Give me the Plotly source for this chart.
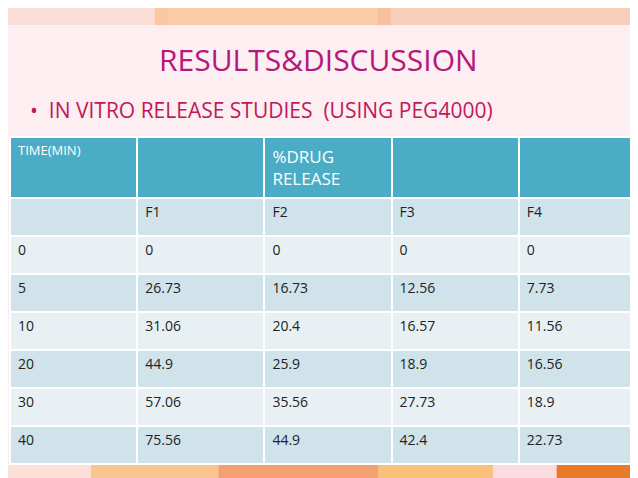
import plotly.graph_objects as go

# 表格数据
time_min = ["0", "5", "10", "20", "30", "40"]
f1 = ["0", "26.73", "31.06", "44.9", "57.06", "75.56"]
f2 = ["0", "16.73", "20.4", "25.9", "35.56", "44.9"]
f3 = ["0", "12.56", "16.57", "18.9", "27.73", "42.4"]
f4 = ["0", "7.73", "11.56", "16.56", "18.9", "22.73"]
header_labels = ["TIME(MIN)", "", "%DRUG<br>RELEASE", "", ""]
series_names = ["", "F1", "F2", "F3", "F4"]

columns = [[series_names[0]] + time_min, [series_names[1]] + f1, [series_names[2]] + f2,
           [series_names[3]] + f3, [series_names[4]] + f4]
row_colors = ["#D0E3EA" if i % 2 == 0 else "#E9F0F3" for i in range(len(columns[0]))]

W, H = 638, 478
OFF = 8  # 页面自带的 body 边距


def py(px):
    # 屏幕像素 y -> paper 坐标
    return 1 - (px - OFF) / H


def px_x(px):
    return (px - OFF) / W


fig = go.Figure()

# 背景色带
for x0, x1, c in [(0, 0.25, "rgba(250,210,200,0.6)"), (0.25, 0.6, "rgba(250,190,140,0.7)"),
                  (0.6, 1.02, "rgba(247,185,150,0.6)")]:
    fig.add_shape(type="rect", xref="paper", yref="paper", x0=x0 - 0.02, x1=x1, y0=py(25), y1=1.02,
                  fillcolor=c, line_width=0, layer="below")
for x0, x1, c in [(0, 0.15, "rgba(250,220,210,0.8)"), (0.15, 0.35, "#F9C48E"), (0.35, 0.6, "#F5A070"),
                  (0.6, 0.78, "#F9C07A"), (0.78, 0.88, "#FADCE0"), (0.88, 1.02, "#E87A2A")]:
    fig.add_shape(type="rect", xref="paper", yref="paper", x0=x0 - 0.02, x1=x1, y0=-0.02, y1=py(465),
                  fillcolor=c, line_width=0, layer="below")

fig.add_trace(go.Table(
    domain=dict(x=[px_x(10), 1], y=[py(466), py(137)]),
    columnwidth=[1, 1, 1, 1, 1],
    header=dict(values=header_labels, fill_color="#4BACC6", align="left", height=58,
                line=dict(color="white", width=2),
                font=dict(family="Open Sans", color="white", size=[13, 13, 17, 13, 13])),
    cells=dict(values=columns, fill_color=[row_colors] * 5, align="left", height=38,
               line=dict(color="white", width=2),
               font=dict(family="Open Sans", color="#222", size=14)),
))

fig.add_annotation(text="RESULTS&DISCUSSION", x=px_x(318), y=py(60), xref="paper", yref="paper",
                   xanchor="center", yanchor="middle", showarrow=False,
                   font=dict(family="Open Sans", size=30, color="#B5177A"))
fig.add_annotation(text="•  IN VITRO RELEASE STUDIES  (USING PEG4000)", x=px_x(28), y=py(110),
                   xref="paper", yref="paper", xanchor="left", yanchor="middle", showarrow=False,
                   font=dict(family="Open Sans", size=21, color="#C0185A"))

fig.update_layout(width=W, height=H, margin=dict(l=0, r=0, t=0, b=0),
                  paper_bgcolor="#FCEEF1", plot_bgcolor="#FCEEF1")
fig.write_html("out.html")
